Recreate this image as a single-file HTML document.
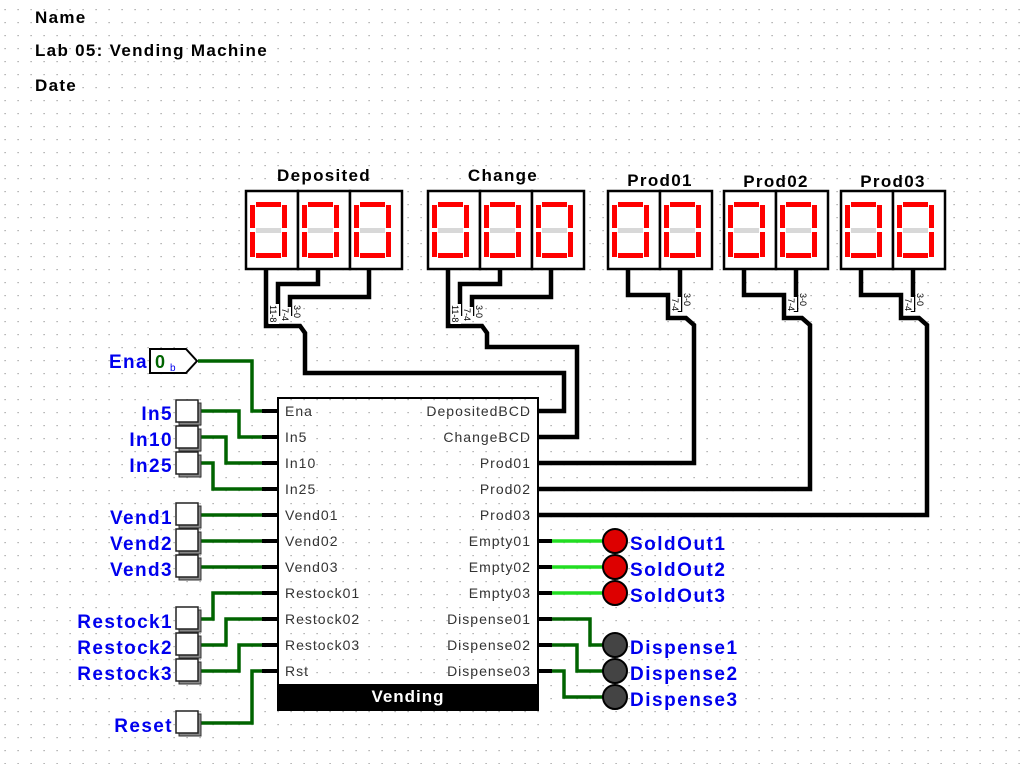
<!DOCTYPE html>
<html><head><meta charset="utf-8"><style>
html,body{margin:0;padding:0;background:#fff;width:1024px;height:764px;overflow:hidden}
svg{display:block}
.t{font-family:"Liberation Sans",sans-serif}
</style></head><body>
<svg width="1024" height="764" xmlns="http://www.w3.org/2000/svg">
<defs>
<pattern id="g" x="4.5" y="9" width="13" height="13" patternUnits="userSpaceOnUse"><rect x="0" y="0" width="1.2" height="1.2" fill="#9a9a9a"/></pattern>
<g id="dig">
<rect x="0" y="0" width="52" height="78" fill="#fff" stroke="#000" stroke-width="2.5"/>
<rect x="10" y="11" width="25" height="5" fill="#f00"/>
<rect x="4" y="14" width="5" height="23" fill="#f00"/>
<rect x="36" y="14" width="5" height="23" fill="#f00"/>
<rect x="10" y="37" width="25" height="5" fill="#d8d8d8"/>
<rect x="4" y="41" width="5" height="25" fill="#f00"/>
<rect x="36" y="41" width="5" height="25" fill="#f00"/>
<rect x="10" y="62" width="25" height="5" fill="#f00"/>
</g>
<g id="btn">
<rect x="3" y="3" width="22" height="22" fill="#888" stroke="#333" stroke-width="1"/>
<rect x="0" y="0" width="22" height="22" fill="#fff" stroke="#222" stroke-width="1.5"/>
</g>
</defs>
<rect width="1024" height="764" fill="url(#g)"/>

<g class="t" font-weight="bold" font-size="17" fill="#000" letter-spacing="1.3">
<text x="35" y="23">Name</text>
<text x="35" y="56">Lab 05: Vending Machine</text>
<text x="35" y="91">Date</text>
<text x="324" y="181" text-anchor="middle">Deposited</text>
<text x="503" y="181" text-anchor="middle">Change</text>
<text x="660" y="186" text-anchor="middle">Prod01</text>
<text x="776" y="187" text-anchor="middle">Prod02</text>
<text x="893" y="187" text-anchor="middle">Prod03</text>
</g>

<use href="#dig" x="246" y="191"/><use href="#dig" x="298" y="191"/><use href="#dig" x="350" y="191"/>
<use href="#dig" x="428" y="191"/><use href="#dig" x="480" y="191"/><use href="#dig" x="532" y="191"/>
<use href="#dig" x="608" y="191"/><use href="#dig" x="660" y="191"/>
<use href="#dig" x="724" y="191"/><use href="#dig" x="776" y="191"/>
<use href="#dig" x="841" y="191"/><use href="#dig" x="893" y="191"/>

<g fill="none" stroke="#000" stroke-width="4.5" stroke-linejoin="miter">
<polyline points="266,269 266,326 300,326 305,333 305,373 564,373 564,411 538,411"/>
<polyline points="318,269 318,284 278,284 278,316"/>
<polyline points="369,269 369,297 290,297 290,316"/>
<polyline points="448,269 448,326 482,326 487,333 487,347 577,347 577,437 538,437"/>
<polyline points="500,269 500,284 460,284 460,316"/>
<polyline points="551,269 551,297 472,297 472,316"/>
<polyline points="628,269 628,295 668,295 668,318 686,318 694,325 694,463 538,463"/>
<polyline points="680,269 680,312"/>
<polyline points="744,269 744,295 784,295 784,318 802,318 810,325 810,489 538,489"/>
<polyline points="796,269 796,312"/>
<polyline points="861,269 861,295 901,295 901,318 919,318 927,325 927,515 538,515"/>
<polyline points="913,269 913,312"/>
</g>
<g class="t" font-size="9" fill="#000">
<g transform="translate(270,304) rotate(90)"><rect x="0" y="-9" width="20" height="10" fill="#fff"/><text x="1" y="0">11-8</text></g>
<g transform="translate(282,307) rotate(90)"><rect x="0" y="-9" width="14" height="10" fill="#fff"/><text x="1" y="0">7-4</text></g>
<g transform="translate(294,304) rotate(90)"><text x="1" y="0">3-0</text></g>
<g transform="translate(452,304) rotate(90)"><rect x="0" y="-9" width="20" height="10" fill="#fff"/><text x="1" y="0">11-8</text></g>
<g transform="translate(464,307) rotate(90)"><rect x="0" y="-9" width="14" height="10" fill="#fff"/><text x="1" y="0">7-4</text></g>
<g transform="translate(476,304) rotate(90)"><text x="1" y="0">3-0</text></g>
<g transform="translate(672,297) rotate(90)"><rect x="0" y="-9" width="14" height="10" fill="#fff"/><text x="1" y="0">7-4</text></g>
<g transform="translate(684,292) rotate(90)"><text x="1" y="0">3-0</text></g>
<g transform="translate(788,297) rotate(90)"><rect x="0" y="-9" width="14" height="10" fill="#fff"/><text x="1" y="0">7-4</text></g>
<g transform="translate(800,292) rotate(90)"><text x="1" y="0">3-0</text></g>
<g transform="translate(905,297) rotate(90)"><rect x="0" y="-9" width="14" height="10" fill="#fff"/><text x="1" y="0">7-4</text></g>
<g transform="translate(917,292) rotate(90)"><text x="1" y="0">3-0</text></g>
</g>

<rect x="278" y="398" width="260" height="312" fill="none" stroke="#000" stroke-width="2"/>
<rect x="278" y="684" width="260" height="26" fill="#000"/>
<text class="t" x="408" y="702" font-size="17" font-weight="bold" fill="#fff" text-anchor="middle" letter-spacing="1">Vending</text>
<g stroke="#000" stroke-width="4">
<line x1="262" y1="411" x2="278" y2="411"/><line x1="262" y1="437" x2="278" y2="437"/><line x1="262" y1="463" x2="278" y2="463"/><line x1="262" y1="489" x2="278" y2="489"/><line x1="262" y1="515" x2="278" y2="515"/><line x1="262" y1="541" x2="278" y2="541"/><line x1="262" y1="567" x2="278" y2="567"/><line x1="262" y1="593" x2="278" y2="593"/><line x1="262" y1="619" x2="278" y2="619"/><line x1="262" y1="645" x2="278" y2="645"/><line x1="262" y1="671" x2="278" y2="671"/>
<line x1="538" y1="541" x2="552" y2="541"/><line x1="538" y1="567" x2="552" y2="567"/><line x1="538" y1="593" x2="552" y2="593"/><line x1="538" y1="619" x2="552" y2="619"/><line x1="538" y1="645" x2="552" y2="645"/><line x1="538" y1="671" x2="552" y2="671"/>
</g>
<g class="t" font-size="14" fill="#333" letter-spacing="1">
<text x="285" y="416">Ena</text><text x="285" y="442">In5</text><text x="285" y="468">In10</text><text x="285" y="494">In25</text><text x="285" y="520">Vend01</text><text x="285" y="546">Vend02</text><text x="285" y="572">Vend03</text><text x="285" y="598">Restock01</text><text x="285" y="624">Restock02</text><text x="285" y="650">Restock03</text><text x="285" y="676">Rst</text>
<g text-anchor="end"><text x="531" y="416">DepositedBCD</text><text x="531" y="442">ChangeBCD</text><text x="531" y="468">Prod01</text><text x="531" y="494">Prod02</text><text x="531" y="520">Prod03</text><text x="531" y="546">Empty01</text><text x="531" y="572">Empty02</text><text x="531" y="598">Empty03</text><text x="531" y="624">Dispense01</text><text x="531" y="650">Dispense02</text><text x="531" y="676">Dispense03</text></g>
</g>

<g fill="none" stroke="#006400" stroke-width="3.5">
<polyline points="198,361 252,361 252,411 262,411"/>
<polyline points="200,411 239,411 239,437 262,437"/>
<polyline points="200,437 226,437 226,463 262,463"/>
<polyline points="200,463 213,463 213,489 262,489"/>
<polyline points="200,515 262,515"/><polyline points="200,541 262,541"/><polyline points="200,567 262,567"/>
<polyline points="200,619 213,619 213,593 262,593"/>
<polyline points="200,645 226,645 226,619 262,619"/>
<polyline points="200,671 239,671 239,645 262,645"/>
<polyline points="200,723 252,723 252,671 262,671"/>
<polyline points="552,619 590,619 590,645 612,645"/>
<polyline points="552,645 577,645 577,671 612,671"/>
<polyline points="552,671 564,671 564,697 612,697"/>
</g>
<g stroke="#22dd22" stroke-width="3.5"><line x1="552" y1="541" x2="612" y2="541"/><line x1="552" y1="567" x2="612" y2="567"/><line x1="552" y1="593" x2="612" y2="593"/></g>

<polygon points="150,349 186,349 197,361 186,373 150,373" fill="#fff" stroke="#000" stroke-width="2"/>
<text class="t" x="155" y="368" font-size="18" font-weight="bold" fill="#006400">0</text>
<text class="t" x="170" y="371" font-size="10" fill="#0000ee">b</text>

<use href="#btn" x="176" y="400"/><use href="#btn" x="176" y="426"/><use href="#btn" x="176" y="452"/>
<use href="#btn" x="176" y="503"/><use href="#btn" x="176" y="529"/><use href="#btn" x="176" y="555"/>
<use href="#btn" x="176" y="607"/><use href="#btn" x="176" y="633"/><use href="#btn" x="176" y="659"/>
<use href="#btn" x="176" y="711"/>

<g class="t" font-size="19" font-weight="bold" fill="#0000ee" text-anchor="end" letter-spacing="1.4">
<text x="148" y="368">Ena</text>
<text x="173" y="420">In5</text><text x="173" y="446">In10</text><text x="173" y="472">In25</text>
<text x="173" y="524">Vend1</text><text x="173" y="550">Vend2</text><text x="173" y="576">Vend3</text>
<text x="173" y="628">Restock1</text><text x="173" y="654">Restock2</text><text x="173" y="680">Restock3</text>
<text x="173" y="732">Reset</text>
</g>

<g stroke="#000" stroke-width="2">
<circle cx="615" cy="541" r="12" fill="#dd0000"/><circle cx="615" cy="567" r="12" fill="#dd0000"/><circle cx="615" cy="593" r="12" fill="#dd0000"/>
<circle cx="615" cy="645" r="12" fill="#444"/><circle cx="615" cy="671" r="12" fill="#444"/><circle cx="615" cy="697" r="12" fill="#444"/>
</g>
<g class="t" font-size="19" font-weight="bold" fill="#0000ee" letter-spacing="1.5">
<text x="630" y="550">SoldOut1</text><text x="630" y="576">SoldOut2</text><text x="630" y="602">SoldOut3</text>
<text x="630" y="654">Dispense1</text><text x="630" y="680">Dispense2</text><text x="630" y="706">Dispense3</text>
</g>
</svg>
</body></html>
